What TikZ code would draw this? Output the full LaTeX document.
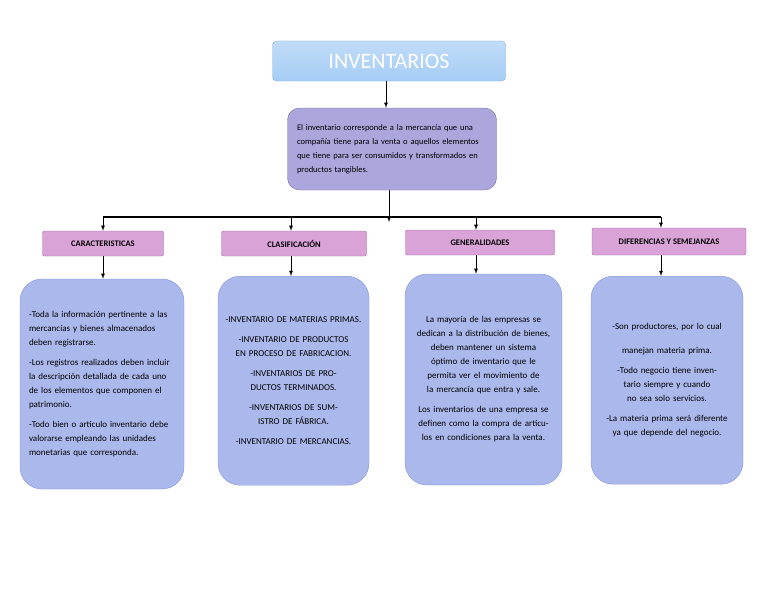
\documentclass[tikz,border=0pt]{standalone}
\usepackage{fontspec}
\setmainfont{Carlito}
\usetikzlibrary{positioning}
\definecolor{titulo}{HTML}{A6CDF5}
\definecolor{tituloborde}{HTML}{7FAEE0}
\definecolor{lila}{HTML}{ABA6DC}
\definecolor{rosa}{HTML}{D9A3D8}
\definecolor{rosaborde}{HTML}{A066A6}
\definecolor{azul}{HTML}{ABB8EC}
\definecolor{azulborde}{HTML}{8595D6}
\tikzset{
  caja/.style={draw=azulborde, fill=azul, rounded corners=22pt, minimum width=#1, inner sep=6pt, font=\fontsize{9}{14}\selectfont},
  rotulo/.style={draw=rosaborde, fill=rosa, rounded corners=2pt, minimum height=25pt, font=\fontsize{8.5}{10}\selectfont\bfseries},
  flecha/.style={-latex, thick}
}
\begin{document}
\begin{tikzpicture}[x=1pt,y=-1pt]
\useasboundingbox (0,0) rectangle (768,594);

\node[draw=tituloborde, top color=titulo!70!white, bottom color=titulo, rounded corners=4pt, minimum width=233pt, minimum height=40pt, text=white, font=\fontsize{22}{24}\selectfont] (INV) at (389,61) {INVENTARIOS};

\node[draw=lila!70!black, fill=lila, rounded corners=12pt, minimum width=209pt, minimum height=82pt, text width=190pt, align=left, font=\fontsize{8.5}{14}\selectfont] (DEF) at (392,149)
  {El inventario corresponde a la mercancía que una compañía tiene para la venta o aquellos elementos que tiene para ser consumidos y transformados en productos tangibles.};

\node[rotulo, minimum width=121pt] (CAR) at (103,243.5) {CARACTERISTICAS};
\node[rotulo, minimum width=145pt] (CLA) at (294,243.5) {CLASIFICACIÓN};
\node[rotulo, minimum width=149pt] (GEN) at (480,242.5) {GENERALIDADES};
\node[rotulo, minimum width=154pt, minimum height=27pt] (DIF) at (669,241.5) {DIFERENCIAS Y SEMEJANZAS};

\node[caja=164pt, minimum height=210pt, text width=146pt, align=left] (TCAR) at (102,384)
  {-Toda la información pertinente a las mercancías y bienes almacenados deben registrarse.\par\vspace{6pt}
   -Los registros realizados deben incluir la descripción detallada de cada uno de los elementos que componen el patrimonio.\par\vspace{6pt}
   -Todo bien o artículo inventario debe valorarse empleando las unidades monetarias que corresponda.};
\node[caja=151pt, minimum height=209pt, text width=138pt, align=center, anchor=north] (TCLA) at (293.5,276)
  {-INVENTARIO DE MATERIAS PRIMAS.\par\vspace{6pt}
   -INVENTARIO DE PRODUCTOS EN PROCESO DE FABRICACION.\par\vspace{6pt}
   -INVENTARIOS DE PRODUCTOS TERMINADOS.\par\vspace{6pt}
   -INVENTARIOS DE SUMISTRO DE FÁBRICA.\par\vspace{6pt}
   -INVENTARIO DE MERCANCIAS.};
\node[caja=157pt, minimum height=211pt, text width=136pt, align=center] (TGEN) at (483.5,379.5)
  {La mayoría de las empresas se dedican a la distribución de bienes, deben mantener un sistema óptimo de inventario que le permita ver el movimiento de la mercancía que entra y sale.\par\vspace{6pt}
   Los inventarios de una empresa se definen como la compra de artículos en condiciones para la venta.};
\node[caja=152pt, minimum height=208pt, text width=130pt, align=center, anchor=north] (TDIF) at (667,276)
  {\vspace{10pt}-Son productores, por lo cual manejan materia prima.\par\vspace{6pt}
   -Todo negocio tiene inventario siempre y cuando no sea solo servicios.\par\vspace{6pt}
   -La materia prima será diferente ya que depende del negocio.};

% conectores
\draw[flecha] (INV.south -| 386,0) -- (DEF.north -| 386,0);
\coordinate (bus) at (389,217);
\draw[flecha] (DEF.south -| bus) -- ([yshift=-5pt]bus);
\draw[very thick] (103,217) -- (661,217);
\foreach \r/\x in {CAR/103, CLA/291, GEN/476, DIF/661}
  \draw[flecha] (\x,217) -- (\r.north -| \x,0);
\foreach \r/\t/\x in {CAR/TCAR/103, CLA/TCLA/291, GEN/TGEN/476, DIF/TDIF/661}
  \draw[flecha] (\r.south -| \x,0) -- (\t.north -| \x,0);
\end{tikzpicture}
\end{document}
